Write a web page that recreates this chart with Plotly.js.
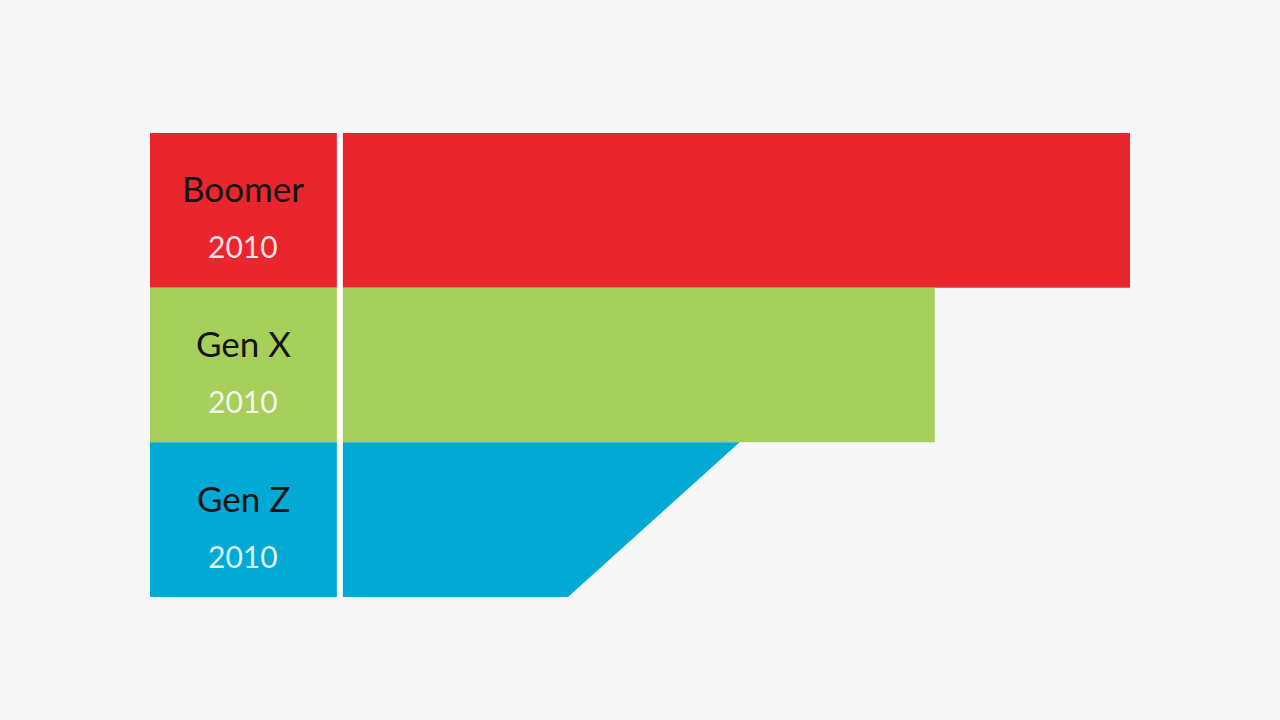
<!DOCTYPE html>
<html>
<head>
<meta charset="utf-8">
<script src="https://cdn.plot.ly/plotly-3.0.1.min.js"></script>
<style>
  html, body { margin: 0; padding: 0; background: #f7f7f7; }
  #chart { width: 1280px; height: 720px; }
</style>
</head>
<body>
<div id="chart"></div>
<script>
// generations and their bars (length measured from the divider line)
var generations = ['Boomer', 'Gen X', 'Gen Z'];
var years = ['2010', '2010', '2010'];
var barEndTop = [100, 75.2, 50.4];     // where the top edge of each bar ends
var barEndBottom = [100, 75.2, 28.6];  // where the bottom edge ends (Gen Z is still growing)
var barColors = ['#e9252d', '#a7cf5b', '#00aad4'];

window.onload = function () {
  var labelStart = -24.5;   // left edge of the label column
  var traces = [];
  var annotations = [];

  for (var i = 0; i < generations.length; i++) {
    // each row is a filled polygon so the slanted Gen Z end can be drawn
    traces.push({
      type: 'scatter',
      mode: 'lines',
      x: [labelStart, barEndTop[i], barEndBottom[i], labelStart, labelStart],
      y: [i - 0.5, i - 0.5, i + 0.5, i + 0.5, i - 0.5],
      fill: 'toself',
      fillcolor: barColors[i],
      line: { width: 0, color: barColors[i] },
      hoverinfo: 'skip'
    });

    var mid = (labelStart - 0.76) / 2;
    annotations.push({
      x: mid, y: i, xref: 'x', yref: 'y',
      text: generations[i], showarrow: false, yshift: 22,
      font: { family: 'Lato, sans-serif', size: 35, color: '#141414' }
    });
    annotations.push({
      x: mid, y: i, xref: 'x', yref: 'y',
      text: years[i], showarrow: false, yshift: -36,
      font: { family: 'Lato, sans-serif', size: 30, color: 'rgba(255,255,255,0.88)' }
    });
  }

  var layout = {
    width: 1280,
    height: 720,
    margin: { l: 150, r: 150, t: 133, b: 123 },
    paper_bgcolor: '#f7f7f7',
    plot_bgcolor: '#f7f7f7',
    showlegend: false,
    hovermode: false,
    xaxis: { range: [labelStart, 100], visible: false, showgrid: false, zeroline: false, fixedrange: true },
    yaxis: { range: [2.5, -0.5], visible: false, showgrid: false, zeroline: false, fixedrange: true },
    // white divider between the label column and the bars
    shapes: [{
      type: 'rect', xref: 'x', yref: 'y', layer: 'above',
      x0: -0.76, x1: 0, y0: -0.5, y1: 2.5,
      fillcolor: '#ffffff', line: { width: 0 }
    }],
    annotations: annotations
  };

  Plotly.newPlot('chart', traces, layout, { displayModeBar: false, staticPlot: true });
};
</script>
</body>
</html>
